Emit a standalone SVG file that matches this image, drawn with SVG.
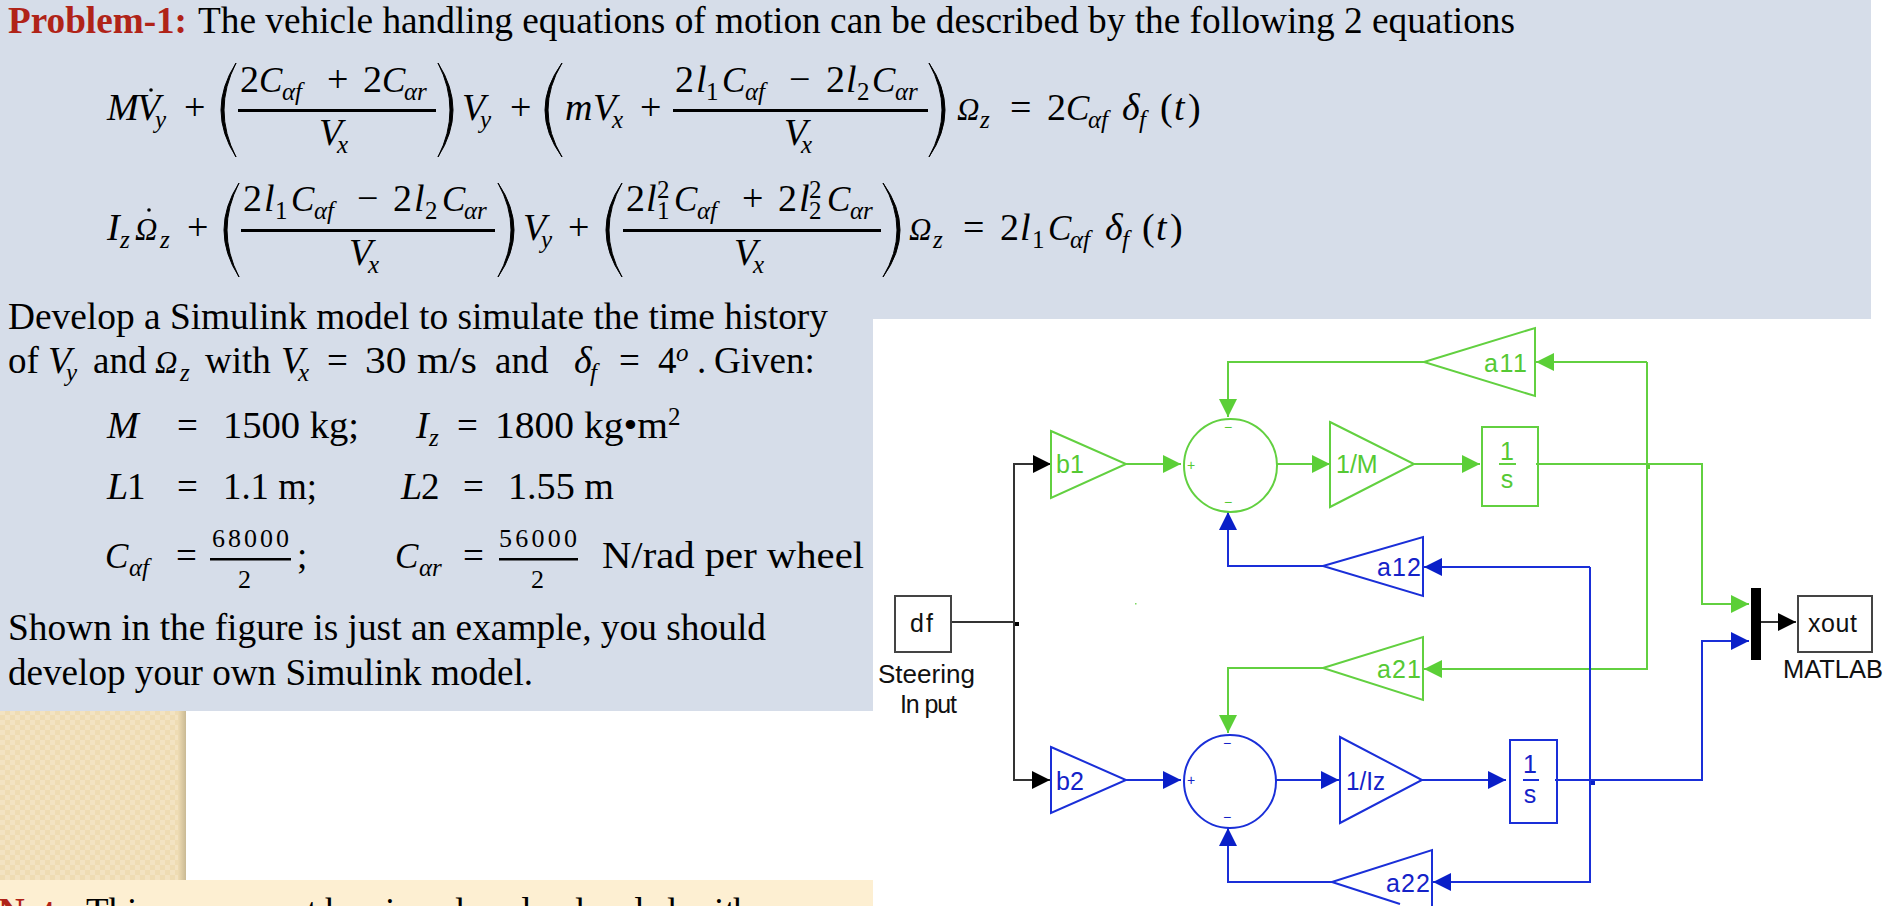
<svg xmlns="http://www.w3.org/2000/svg" width="1890" height="906" viewBox="0 0 1890 906">
<style>
text{font-family:"Liberation Serif",serif;fill:#000}
.t{font-size:37px}
.m{font-size:38px;font-style:italic}
.u{font-style:normal}
.s{font-size:25px}
.c{font-size:35px}
.o{font-size:31px}
.f{font-size:26px}
.d{font-family:"Liberation Sans",sans-serif;font-size:25px}
.g{fill:#55c934}.bl{fill:#1422c8}.k{fill:#111}
.lg{fill:none;stroke:#62d040;stroke-width:2}
.lb{fill:none;stroke:#1a2fd8;stroke-width:2}
.lk{fill:none;stroke:#333;stroke-width:2}
.bk{fill:#fff;stroke:#444;stroke-width:2}
.p{fill:#000;stroke:#000;stroke-width:1}
.r{fill:#000}
.ag{marker-end:url(#ag)}.ab{marker-end:url(#ab)}.ak{marker-end:url(#ak)}
</style>
<defs>
<marker id="ag" markerUnits="userSpaceOnUse" markerWidth="18" markerHeight="18" refX="18" refY="9" orient="auto"><path d="M0 0L18 9L0 18Z" fill="#5bcf37"/></marker>
<marker id="ab" markerUnits="userSpaceOnUse" markerWidth="18" markerHeight="18" refX="18" refY="9" orient="auto"><path d="M0 0L18 9L0 18Z" fill="#0a1fc8"/></marker>
<marker id="ak" markerUnits="userSpaceOnUse" markerWidth="18" markerHeight="18" refX="18" refY="9" orient="auto"><path d="M0 0L18 9L0 18Z" fill="#000"/></marker>
<pattern id="tex" width="10" height="10" patternUnits="userSpaceOnUse"><rect width="10" height="10" fill="#efdcb3"/><rect width="5" height="5" fill="#f3e3c2"/><rect x="5" y="5" width="5" height="5" fill="#f3e3c2"/></pattern>
<linearGradient id="edge"><stop offset="0" stop-color="#efdcb3"/><stop offset="1" stop-color="#c9b994"/></linearGradient>
</defs>
<rect width="1890" height="906" fill="#fff"/>
<rect width="1871" height="319" fill="#d6dde9"/>
<rect y="319" width="873" height="392" fill="#d6dde9"/>
<rect y="711" width="186" height="169" fill="url(#tex)"/>
<rect x="178" y="711" width="8" height="169" fill="url(#edge)"/>
<rect y="880" width="873" height="26" fill="#fdefd2"/>

<g id="heading">
<text x="8" y="33" class="t" style="font-weight:bold;fill:#b02318" textLength="179" lengthAdjust="spacingAndGlyphs">Problem-1:</text>
<text x="198" y="33" class="t" textLength="1317" lengthAdjust="spacingAndGlyphs">The vehicle handling equations of motion can be described by the following 2 equations</text>
</g>

<g id="equation-1">
<text class="m"><tspan x="107" y="120">M</tspan><tspan x="137">V</tspan><tspan x="155" y="128" class="s">y</tspan><tspan x="184" y="120" class="u">+</tspan>
<tspan x="240" y="92" class="u">2</tspan><tspan x="259" class="c">C</tspan><tspan x="282" y="100" class="s">αf</tspan><tspan x="327" y="92" class="u">+</tspan><tspan x="363" class="u">2</tspan><tspan x="382" class="c">C</tspan><tspan x="404" y="100" class="s">αr</tspan>
<tspan x="319" y="145">V</tspan><tspan x="337" y="153" class="s">x</tspan>
<tspan x="462" y="120">V</tspan><tspan x="480" y="128" class="s">y</tspan><tspan x="510" y="120" class="u">+</tspan>
<tspan x="565">m</tspan><tspan x="593">V</tspan><tspan x="612" y="128" class="s">x</tspan><tspan x="640" y="120" class="u">+</tspan>
<tspan x="675" y="92" class="u">2</tspan><tspan x="696">l</tspan><tspan x="706" y="100" class="s u">1</tspan><tspan x="722" y="92" class="c">C</tspan><tspan x="745" y="100" class="s">αf</tspan><tspan x="789" y="92" class="u">−</tspan><tspan x="826" class="u">2</tspan><tspan x="846">l</tspan><tspan x="857" y="100" class="s u">2</tspan><tspan x="872" y="92" class="c">C</tspan><tspan x="895" y="100" class="s">αr</tspan>
<tspan x="784" y="145">V</tspan><tspan x="801" y="153" class="s">x</tspan>
<tspan x="957" y="120" class="o">Ω</tspan><tspan x="980" y="128" class="s">z</tspan><tspan x="1010" y="120" class="u">=</tspan><tspan x="1047" class="u">2</tspan><tspan x="1066" class="c">C</tspan><tspan x="1088" y="128" class="s">αf</tspan><tspan x="1122" y="120">δ</tspan><tspan x="1139" y="128" class="s">f</tspan><tspan x="1160" y="120" class="u">(</tspan><tspan x="1174">t</tspan><tspan x="1188" class="u">)</tspan></text>
<rect class="r" x="238" y="109" width="198" height="3"/><rect class="r" x="673" y="109" width="255" height="3"/>
<circle class="r" cx="151" cy="90" r="1.800"/>
<path class="p" d="M236 63Q206 110 236 157Q212 110 236 63ZM438 63Q468 110 438 157Q462 110 438 63ZM562 63Q528 110 562 157Q534 110 562 63ZM929 63Q961 110 929 157Q955 110 929 63Z"/>
</g>

<g id="equation-2">
<text class="m"><tspan x="107" y="240">I</tspan><tspan x="120" y="248" class="s">z</tspan><tspan x="135" y="240" class="o">Ω</tspan><tspan x="160" y="248" class="s">z</tspan><tspan x="187" y="240" class="u">+</tspan>
<tspan x="243" y="211" class="u">2</tspan><tspan x="264">l</tspan><tspan x="275" y="219" class="s u">1</tspan><tspan x="291" y="211" class="c">C</tspan><tspan x="314" y="219" class="s">αf</tspan><tspan x="357" y="211" class="u">−</tspan><tspan x="393" class="u">2</tspan><tspan x="414">l</tspan><tspan x="425" y="219" class="s u">2</tspan><tspan x="442" y="211" class="c">C</tspan><tspan x="464" y="219" class="s">αr</tspan>
<tspan x="349" y="265">V</tspan><tspan x="368" y="273" class="s">x</tspan>
<tspan x="523" y="240">V</tspan><tspan x="541" y="248" class="s">y</tspan><tspan x="568" y="240" class="u">+</tspan>
<tspan x="626" y="211" class="u">2</tspan><tspan x="646">l</tspan><tspan x="657" y="198" class="s u">2</tspan><tspan x="657" y="219" class="s u">1</tspan><tspan x="674" y="211" class="c">C</tspan><tspan x="697" y="219" class="s">αf</tspan><tspan x="742" y="211" class="u">+</tspan><tspan x="778" class="u">2</tspan><tspan x="799">l</tspan><tspan x="809" y="198" class="s u">2</tspan><tspan x="809" y="219" class="s u">2</tspan><tspan x="827" y="211" class="c">C</tspan><tspan x="850" y="219" class="s">αr</tspan>
<tspan x="734" y="265">V</tspan><tspan x="753" y="273" class="s">x</tspan>
<tspan x="909" y="240" class="o">Ω</tspan><tspan x="933" y="248" class="s">z</tspan><tspan x="963" y="240" class="u">=</tspan><tspan x="1000" class="u">2</tspan><tspan x="1020">l</tspan><tspan x="1032" y="248" class="s u">1</tspan><tspan x="1048" y="240" class="c">C</tspan><tspan x="1070" y="248" class="s">αf</tspan><tspan x="1105" y="240">δ</tspan><tspan x="1122" y="248" class="s">f</tspan><tspan x="1142" y="240" class="u">(</tspan><tspan x="1156">t</tspan><tspan x="1170" class="u">)</tspan></text>
<rect class="r" x="241" y="229" width="254" height="3"/><rect class="r" x="623" y="229" width="258" height="3"/>
<circle class="r" cx="149" cy="210" r="1.800"/>
<path class="p" d="M239 183Q209 230 239 277Q215 230 239 183ZM498 183Q530 230 498 277Q524 230 498 183ZM622 183Q590 230 622 277Q596 230 622 183ZM883 183Q917 230 883 277Q911 230 883 183Z"/>
</g>

<g id="description">
<text x="8" y="329" class="t" textLength="820" lengthAdjust="spacingAndGlyphs">Develop a Simulink model to simulate the time history</text>
<text class="t" y="373"><tspan x="8">of</tspan><tspan x="48" class="m">V</tspan><tspan x="66" y="381" class="m s">y</tspan><tspan x="93" y="373">and</tspan><tspan x="155" class="m o">Ω</tspan><tspan x="180" y="381" class="m s">z</tspan><tspan x="205" y="373">with</tspan><tspan x="281" class="m">V</tspan><tspan x="298" y="381" class="m s">x</tspan><tspan x="327" y="373">=</tspan><tspan x="495">and</tspan><tspan x="574" class="m">δ</tspan><tspan x="590" y="381" class="m s">f</tspan><tspan x="619" y="373">=</tspan><tspan x="658">4</tspan><tspan x="676" y="361" class="m s">o</tspan><tspan x="697" y="373">.</tspan><tspan x="714">Given:</tspan></text>
<text class="t" x="365" y="373" textLength="112" lengthAdjust="spacingAndGlyphs">30 m/s</text>
<text class="t" y="438"><tspan x="107" class="m">M</tspan><tspan x="177">=</tspan><tspan x="416" class="m">I</tspan><tspan x="429" y="446" class="m s">z</tspan><tspan x="457" y="438">=</tspan><tspan x="668" y="425" class="s">2</tspan></text>
<text class="t" x="223" y="438" textLength="136" lengthAdjust="spacingAndGlyphs">1500 kg;</text>
<text class="t" x="495" y="438" textLength="173" lengthAdjust="spacingAndGlyphs">1800 kg•m</text>
<text class="t" y="499"><tspan x="107" class="m">L</tspan><tspan x="127">1</tspan><tspan x="177">=</tspan><tspan x="401" class="m">L</tspan><tspan x="421">2</tspan><tspan x="463">=</tspan></text>
<text class="t" x="223" y="499" textLength="94" lengthAdjust="spacingAndGlyphs">1.1 m;</text>
<text class="t" x="508" y="499" textLength="106" lengthAdjust="spacingAndGlyphs">1.55 m</text>
<text class="t" y="568"><tspan x="105" class="m c">C</tspan><tspan x="129" y="576" class="m s">αf</tspan><tspan x="176" y="568">=</tspan><tspan x="395" class="m c">C</tspan><tspan x="419" y="576" class="m s">αr</tspan><tspan x="463" y="568">=</tspan></text>
<text class="f" x="212" y="547" textLength="77">68000</text><text class="f" x="238" y="588">2</text><rect class="r" x="210" y="558" width="81" height="2.500"/><text class="t" x="297" y="568">;</text>
<text class="f" x="499" y="547" textLength="78">56000</text><text class="f" x="531" y="588">2</text><rect class="r" x="499" y="558" width="79" height="2.500"/>
<text class="t" x="602" y="568" textLength="262" lengthAdjust="spacingAndGlyphs">N/rad per wheel</text>
<text x="8" y="640" class="t" textLength="758" lengthAdjust="spacingAndGlyphs">Shown in the figure is just an example, you should</text>
<text x="8" y="685" class="t" textLength="525" lengthAdjust="spacingAndGlyphs">develop your own Simulink model.</text>
</g>

<g id="note">
<text x="-2" y="924" class="t" style="font-weight:bold;fill:#b02318">Note:</text>
<text x="86" y="924" class="t">This</text>
<text y="924" class="t" x="307 325 385 455 512 575 625 667 714 725 733">thildldlith</text>
</g>

<g id="connectors">
<path class="lg ag" d="M1424 362H1228V417"/>
<path class="lg ag" d="M1126 464H1181"/>
<path class="lg ag" d="M1277 464H1330"/>
<path class="lg ag" d="M1414 464H1480"/>
<path class="lg ag" d="M1536 464H1702V604H1749"/>
<path class="lg ag" d="M1647 362H1536"/>
<path class="lg ag" d="M1647 362V669H1424"/>
<path class="lg ag" d="M1323 668H1228V733"/>
<path class="lb ab" d="M1323 566H1228V512"/>
<path class="lb ab" d="M1590 567H1424"/>
<path class="lb ab" d="M1590 567V882H1433"/>
<path class="lb ab" d="M1332 882H1228V828"/>
<path class="lb ab" d="M1126 780H1181"/>
<path class="lb ab" d="M1276 780H1339"/>
<path class="lb ab" d="M1422 780H1506"/>
<path class="lb ab" d="M1555 780H1702V641H1749"/>
<path class="lk ak" d="M951 622H1014V464H1051"/>
<path class="lk ak" d="M1014 622V780H1050"/>
<path class="lk ak" d="M1761 622H1796"/>
<rect x="1646" y="465" width="4" height="4" fill="#5bcf37"/>
<rect x="1591" y="781" width="4" height="4" fill="#0a1fc8"/>
<rect x="1015" y="622" width="4" height="4" fill="#000"/>
<rect x="1135" y="603" width="1.500" height="1.500" fill="#7bd860"/>
</g>

<g id="b1"><path class="lg" d="M1051 431L1126 464L1051 498Z"/><text x="1056" y="473" class="d g">b1</text></g>
<g id="sum1"><circle class="lg" cx="1230.500" cy="465.500" r="46.500"/><text x="1187" y="470" class="d g" style="font-size:14px">+</text><text x="1224" y="432" class="d g" style="font-size:14px">−</text><text x="1224" y="507" class="d g" style="font-size:14px">−</text></g>
<g id="gain-1-M"><path class="lg" d="M1330 422L1414 464L1330 507Z"/><text x="1336" y="473" class="d g">1/M</text></g>
<g id="int1"><rect class="lg" x="1482" y="427" width="56" height="79"/><text x="1507" y="460" class="d g" text-anchor="middle">1</text><path class="lg" d="M1499 464H1516"/><text x="1507" y="488" class="d g" text-anchor="middle">s</text></g>
<g id="a11"><path class="lg" d="M1424 362L1535 328V396Z"/><text x="1484" y="372" class="d g" textLength="43">a11</text></g>
<g id="a12"><path class="lb" d="M1323 566L1423 537V596Z"/><text x="1377" y="576" class="d bl" textLength="44">a12</text></g>
<g id="a21"><path class="lg" d="M1323 668L1423 637V700Z"/><text x="1377" y="678" class="d g" textLength="44">a21</text></g>
<g id="a22"><path class="lb" d="M1332 882L1432 850V914"/><path class="lb" d="M1332 882L1400 904"/><text x="1386" y="892" class="d bl" textLength="44">a22</text></g>
<g id="b2"><path class="lb" d="M1051 747L1126 780L1051 813Z"/><text x="1056" y="790" class="d bl">b2</text></g>
<g id="sum2"><ellipse class="lb" cx="1230" cy="781.500" rx="46" ry="46.500"/><text x="1187" y="785" class="d bl" style="font-size:14px">+</text><text x="1223" y="748" class="d bl" style="font-size:14px">−</text><text x="1223" y="822" class="d bl" style="font-size:14px">−</text></g>
<g id="gain-1-Iz"><path class="lb" d="M1340 737L1422 780L1340 823Z"/><text x="1346" y="790" class="d bl" textLength="39" lengthAdjust="spacingAndGlyphs">1/Iz</text></g>
<g id="int2"><rect class="lb" x="1510" y="740" width="47" height="83"/><text x="1530" y="773" class="d bl" text-anchor="middle">1</text><path class="lb" d="M1523 780H1539"/><text x="1530" y="803" class="d bl" text-anchor="middle">s</text></g>
<g id="df"><rect class="bk" x="895" y="596" width="56" height="56"/><text x="910" y="632" class="d k" textLength="23">df</text><text x="878" y="683" class="d k" textLength="97" lengthAdjust="spacingAndGlyphs">Steering</text><text x="900" y="713" class="d k" textLength="57">In put</text></g>
<g id="mux"><rect x="1751" y="588" width="10" height="72" fill="#000"/></g>
<g id="xout"><rect class="bk" x="1798" y="596" width="74" height="56"/><text x="1808" y="632" class="d k" textLength="49">xout</text><text x="1783" y="678" class="d k" textLength="100" lengthAdjust="spacingAndGlyphs">MATLAB</text></g>
</svg>
